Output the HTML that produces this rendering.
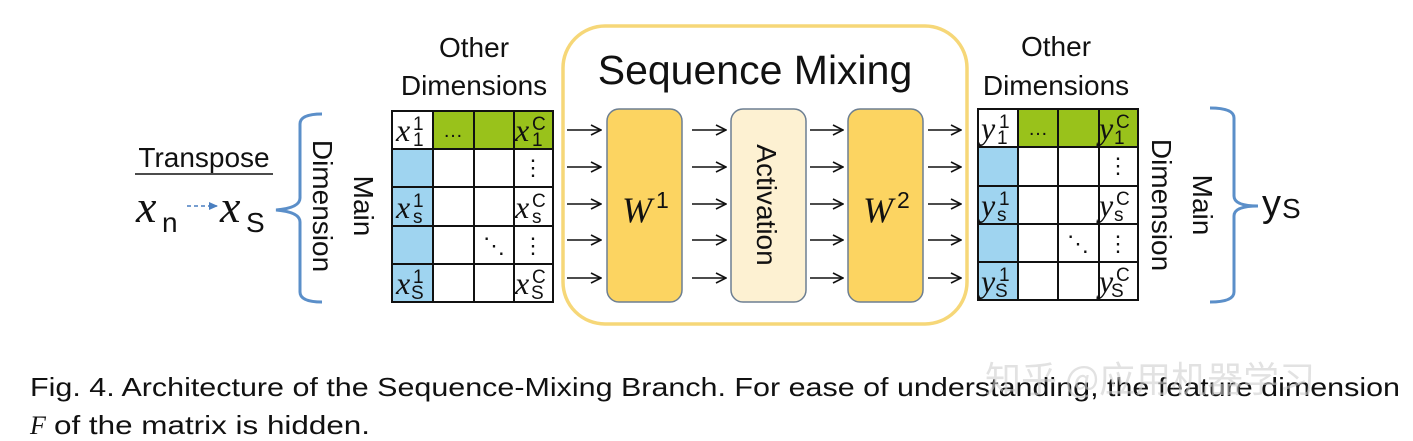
<!DOCTYPE html>
<html><head><meta charset="utf-8"><style>
html,body{margin:0;padding:0;background:#fff;}
svg{display:block;}
.s{font-family:"Liberation Sans",sans-serif;}
.m{font-family:"Liberation Serif",serif;font-style:italic;}
</style></head><body>
<svg width="1413" height="441" viewBox="0 0 1413 441" xmlns="http://www.w3.org/2000/svg">
<defs>
<marker id="ah" markerWidth="12" markerHeight="12" refX="11" refY="6" orient="auto" markerUnits="userSpaceOnUse">
<path d="M1,1 L11,6 L1,11" fill="none" stroke="#111" stroke-width="1.6"/>
</marker>
<marker id="bh" markerWidth="10" markerHeight="10" refX="8" refY="5" orient="auto" markerUnits="userSpaceOnUse">
<path d="M0,1 L9,5 L0,9Z" fill="#4a7fc0"/>
</marker>
</defs>

<!-- Left side -->
<text x="204" y="167" class="s" font-size="28" text-anchor="middle" fill="#111">Transpose</text>
<line x1="135" y1="174" x2="273" y2="174" stroke="#111" stroke-width="1.6"/>
<text x="136" y="222" class="m" font-size="46" fill="#111">x</text>
<text x="162" y="232" class="s" font-size="28" fill="#111">n</text>
<line x1="187" y1="206" x2="217" y2="206" stroke="#4a7fc0" stroke-width="1.5" stroke-dasharray="4,3" marker-end="url(#bh)"/>
<text x="220" y="222" class="m" font-size="46" fill="#111">x</text>
<text x="246" y="232" class="s" font-size="28" fill="#111">S</text>
<path d="M322,114 Q300,114 300,124 L300,198 Q300,208 276,210 Q300,212 300,222 L300,292 Q300,302 322,302" fill="none" stroke="#5b8fc9" stroke-width="3"/>
<text transform="translate(354,206) rotate(90)" class="s" font-size="28" text-anchor="middle" fill="#111">Main</text>
<text transform="translate(313,206) rotate(90)" class="s" font-size="28" text-anchor="middle" fill="#111">Dimension</text>

<!-- Left matrix -->
<text x="474" y="57" class="s" font-size="28" text-anchor="middle" fill="#111">Other</text>
<text x="474" y="95" class="s" font-size="28" text-anchor="middle" fill="#111">Dimensions</text>
<g>
<rect x="433" y="111" width="120" height="38" fill="#99c21b"/>
<rect x="392" y="149" width="41" height="153" fill="#9fd4f0"/>
<g stroke="#111" stroke-width="2">
<rect x="392" y="111" width="161" height="191" fill="none"/>
<line x1="433" y1="111" x2="433" y2="302"/><line x1="474" y1="111" x2="474" y2="302"/><line x1="514" y1="111" x2="514" y2="302"/>
<line x1="392" y1="149" x2="553" y2="149"/><line x1="392" y1="187" x2="553" y2="187"/><line x1="392" y1="226" x2="553" y2="226"/><line x1="392" y1="264" x2="553" y2="264"/>
</g>
<g font-size="32" fill="#111">
<text x="396" y="141" class="m">x</text><text x="413" y="130" class="s" font-size="19">1</text><text x="413" y="146" class="s" font-size="19">1</text>
<text x="453" y="137" class="s" font-size="20" text-anchor="middle">…</text>
<text x="515" y="141" class="m">x</text><text x="532" y="130" class="s" font-size="19">C</text><text x="532" y="146" class="s" font-size="19">1</text>
<text x="533" y="175" class="s" font-size="22" text-anchor="middle">⋮</text>
<text x="396" y="218" class="m">x</text><text x="413" y="207" class="s" font-size="19">1</text><text x="413" y="223" class="s" font-size="19">s</text>
<text x="515" y="218" class="m">x</text><text x="532" y="207" class="s" font-size="19">C</text><text x="532" y="223" class="s" font-size="19">s</text>
<text x="494" y="253" class="s" font-size="22" text-anchor="middle">⋱</text>
<text x="533" y="253" class="s" font-size="22" text-anchor="middle">⋮</text>
<text x="396" y="294" class="m">x</text><text x="413" y="283" class="s" font-size="19">1</text><text x="411" y="299" class="s" font-size="19">S</text>
<text x="515" y="294" class="m">x</text><text x="532" y="283" class="s" font-size="19">C</text><text x="531" y="299" class="s" font-size="19">S</text>
</g>
</g>

<!-- Sequence mixing box -->
<rect x="563" y="26" width="404" height="298" rx="42" fill="none" stroke="#f6d778" stroke-width="3.5"/>
<text x="755" y="84" class="s" font-size="41" text-anchor="middle" fill="#111">Sequence Mixing</text>
<rect x="607" y="109" width="75" height="193" rx="12" fill="#fcd461" stroke="#6d7f92" stroke-width="1.5"/>
<rect x="731" y="109" width="75" height="193" rx="12" fill="#fdf1d2" stroke="#6d7f92" stroke-width="1.5"/>
<rect x="848" y="109" width="75" height="193" rx="12" fill="#fcd461" stroke="#6d7f92" stroke-width="1.5"/>
<text x="622" y="222" class="m" font-size="36" fill="#111">W</text><text x="656" y="208" class="s" font-size="23" fill="#111">1</text>
<text x="863" y="222" class="m" font-size="36" fill="#111">W</text><text x="897" y="208" class="s" font-size="23" fill="#111">2</text>
<text transform="translate(757,205) rotate(90)" class="s" font-size="28" text-anchor="middle" fill="#111">Activation</text>
<g stroke="#111" stroke-width="1.6" marker-end="url(#ah)">
<line x1="567" y1="130" x2="601" y2="130"/><line x1="567" y1="167" x2="601" y2="167"/><line x1="567" y1="204" x2="601" y2="204"/><line x1="567" y1="240" x2="601" y2="240"/><line x1="567" y1="278" x2="601" y2="278"/>
<line x1="692" y1="130" x2="726" y2="130"/><line x1="692" y1="167" x2="726" y2="167"/><line x1="692" y1="204" x2="726" y2="204"/><line x1="692" y1="240" x2="726" y2="240"/><line x1="692" y1="278" x2="726" y2="278"/>
<line x1="810" y1="130" x2="843" y2="130"/><line x1="810" y1="167" x2="843" y2="167"/><line x1="810" y1="204" x2="843" y2="204"/><line x1="810" y1="240" x2="843" y2="240"/><line x1="810" y1="278" x2="843" y2="278"/>
<line x1="928" y1="130" x2="961" y2="130"/><line x1="928" y1="167" x2="961" y2="167"/><line x1="928" y1="204" x2="961" y2="204"/><line x1="928" y1="240" x2="961" y2="240"/><line x1="928" y1="278" x2="961" y2="278"/>
</g>

<!-- Right matrix -->
<text x="1056" y="56" class="s" font-size="28" text-anchor="middle" fill="#111">Other</text>
<text x="1056" y="95" class="s" font-size="28" text-anchor="middle" fill="#111">Dimensions</text>
<g>
<rect x="1018" y="109" width="120" height="38" fill="#99c21b"/>
<rect x="978" y="147" width="40" height="153" fill="#9fd4f0"/>
<g stroke="#111" stroke-width="2">
<rect x="978" y="109" width="160" height="191" fill="none"/>
<line x1="1018" y1="109" x2="1018" y2="300"/><line x1="1058" y1="109" x2="1058" y2="300"/><line x1="1099" y1="109" x2="1099" y2="300"/>
<line x1="978" y1="147" x2="1138" y2="147"/><line x1="978" y1="186" x2="1138" y2="186"/><line x1="978" y1="224" x2="1138" y2="224"/><line x1="978" y1="262" x2="1138" y2="262"/>
</g>
<g font-size="32" fill="#111">
<text x="981" y="139" class="m">y</text><text x="999" y="128" class="s" font-size="19">1</text><text x="997" y="144" class="s" font-size="19">1</text>
<text x="1038" y="135" class="s" font-size="20" text-anchor="middle">…</text>
<text x="1099" y="139" class="m">y</text><text x="1116" y="128" class="s" font-size="19">C</text><text x="1114" y="144" class="s" font-size="19">1</text>
<text x="1118" y="173" class="s" font-size="22" text-anchor="middle">⋮</text>
<text x="981" y="216" class="m">y</text><text x="999" y="205" class="s" font-size="19">1</text><text x="997" y="221" class="s" font-size="19">s</text>
<text x="1099" y="216" class="m">y</text><text x="1116" y="205" class="s" font-size="19">C</text><text x="1114" y="221" class="s" font-size="19">s</text>
<text x="1078" y="251" class="s" font-size="22" text-anchor="middle">⋱</text>
<text x="1118" y="251" class="s" font-size="22" text-anchor="middle">⋮</text>
<text x="981" y="292" class="m">y</text><text x="999" y="281" class="s" font-size="19">1</text><text x="995" y="297" class="s" font-size="19">S</text>
<text x="1099" y="292" class="m">y</text><text x="1116" y="281" class="s" font-size="19">C</text><text x="1111" y="297" class="s" font-size="19">S</text>
</g>
</g>
<text transform="translate(1152,205) rotate(90)" class="s" font-size="28" text-anchor="middle" fill="#111">Dimension</text>
<text transform="translate(1193,205) rotate(90)" class="s" font-size="28" text-anchor="middle" fill="#111">Main</text>
<path d="M1210,108 Q1234,108 1234,118 L1234,196 Q1234,206 1258,206 Q1234,206 1234,216 L1234,292 Q1234,302 1210,302" fill="none" stroke="#5b8fc9" stroke-width="3"/>
<text x="1262" y="216" class="s" font-size="38" fill="#111">y</text><text x="1282" y="218" class="s" font-size="28" fill="#111">S</text>

<!-- Caption -->
<text x="30" y="396" class="s" font-size="26" fill="#111" textLength="1370" lengthAdjust="spacingAndGlyphs">Fig. 4.  Architecture of the Sequence-Mixing Branch. For ease of understanding, the feature dimension</text>
<text x="30" y="434" class="m" font-size="26" fill="#111">F</text>
<text x="54" y="434" class="s" font-size="26" fill="#111" textLength="316" lengthAdjust="spacingAndGlyphs">of the matrix is hidden.</text>
<text x="985" y="392" font-family="'Noto Sans CJK SC',sans-serif" font-size="36" fill="#cfcfcf" opacity="0.6">知乎 @应用机器学习</text>
</svg>
</body></html>
